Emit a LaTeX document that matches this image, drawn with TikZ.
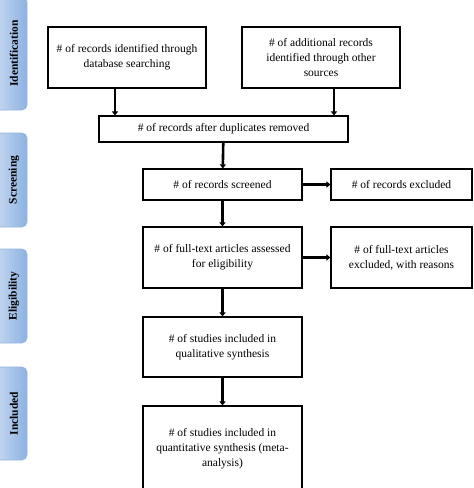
\documentclass[tikz,border=0pt]{standalone}
\usepackage{fontspec}
\setmainfont{Liberation Serif}
\usetikzlibrary{arrows.meta,calc}
\definecolor{stageL}{RGB}{205,220,242}
\definecolor{stageR}{RGB}{140,178,226}
\definecolor{stageB}{RGB}{150,182,225}
\tikzset{
  box/.style={draw=black,line width=1.1pt,fill=white,align=center,inner sep=2pt,
    font=\fontsize{11.5}{15}\selectfont},
  stage/.style={draw=stageB,line width=0.6pt,rounded corners=5pt,left color=stageL,right color=stageR},
  stagetext/.style={rotate=90,font=\fontsize{11.5}{13}\selectfont\bfseries},
  flow/.style={line width=2.6pt,-{Triangle[length=4pt,width=6pt]}}
}
\begin{document}
\begin{tikzpicture}[x=1pt,y=-1pt]
\useasboundingbox (0,0) rectangle (474,488);
% stage bars
\foreach \ya/\yb/\lab/\nm in {-3/110/Identification/sA,133/227/Screening/sB,249/343/Eligibility/sC,367/460/Included/sD}{
  \path[stage] (-8,\ya) rectangle (27,\yb);
  \node[stagetext] (\nm) at (14,{(\ya+\yb)/2}) {\lab};
}
% boxes
\node[box,minimum width=158,minimum height=61] (b1) at (127,57.5) {\# of records identified through\\database searching};
\node[box,minimum width=158,minimum height=61] (b2) at (321,57.5) {\# of additional records\\identified through other\\sources};
\node[box,minimum width=249,minimum height=26] (dup) at (223.5,129) {\# of records after duplicates removed};
\node[box,minimum width=159,minimum height=31] (scr) at (222.5,184.5) {\# of records screened};
\node[box,minimum width=141,minimum height=31] (exc) at (401.5,184.5) {\# of records excluded};
\node[box,minimum width=159,minimum height=61] (ft) at (222.5,257.5) {\# of full-text articles assessed\\for eligibility};
\node[box,minimum width=141,minimum height=61] (ftx) at (401.5,257.5) {\# of full-text articles\\excluded, with reasons};
\node[box,minimum width=159,minimum height=60] (qual) at (222.5,347) {\# of studies included in\\qualitative synthesis};
\node[box,minimum width=159,minimum height=86] (quant) at (222.5,449) {\# of studies included in\\quantitative synthesis (meta-\\analysis)};
% arrows
\coordinate (a1) at (115,0);
\coordinate (a2) at (334,0);
\draw[flow] (b1.south -| a1) -- (dup.north -| a1);
\draw[flow] (b2.south -| a2) -- (dup.north -| a2);
\draw[flow] (dup) -- (scr);
\draw[flow] (scr) -- (exc);
\draw[flow] (scr) -- (ft);
\draw[flow] (ft) -- (ftx);
\draw[flow] (ft) -- (qual);
\draw[flow] (qual) -- (quant);
\end{tikzpicture}
\end{document}
